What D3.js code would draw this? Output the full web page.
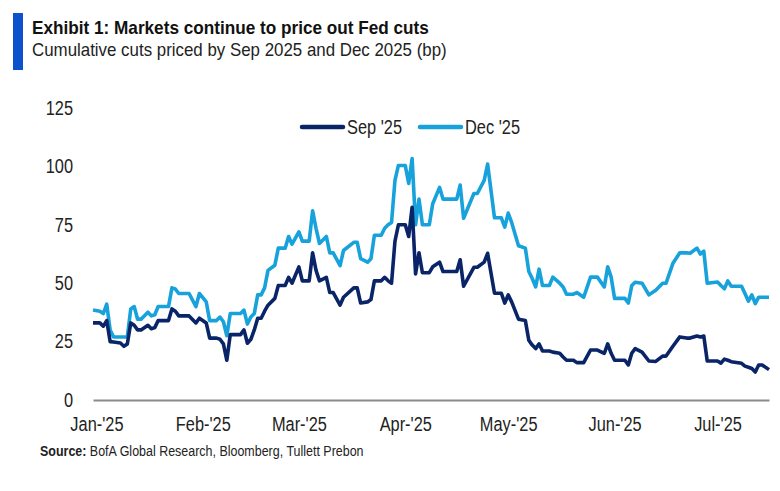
<!DOCTYPE html>
<html>
<head>
<meta charset="utf-8">
<script src="https://cdn.jsdelivr.net/npm/d3@7"></script>
<style>
  body { margin: 0; background: #fff; }
  svg { display: block; }
  text { font-family: "Liberation Sans Narrow", "Arial Narrow", "Liberation Sans", Arial, sans-serif; }
</style>
</head>
<body>
<svg id="chart" width="780" height="491"></svg>
<script>
// Observation dates (cumulative cuts priced, bp)
const dates = [
  '2024-12-31','2025-01-02','2025-01-03','2025-01-04','2025-01-05','2025-01-06','2025-01-08','2025-01-09','2025-01-10','2025-01-11',
  '2025-01-12','2025-01-13','2025-01-14','2025-01-16','2025-01-17','2025-01-18','2025-01-19','2025-01-22','2025-01-23','2025-01-24',
  '2025-01-25','2025-01-28','2025-01-30','2025-01-31','2025-02-02','2025-02-03','2025-02-05','2025-02-06','2025-02-07','2025-02-08',
  '2025-02-09','2025-02-12','2025-02-13','2025-02-14','2025-02-15','2025-02-16','2025-02-17','2025-02-18','2025-02-19','2025-02-20',
  '2025-02-22','2025-02-23','2025-02-25','2025-02-26','2025-02-27','2025-03-01','2025-03-02','2025-03-04','2025-03-05','2025-03-06',
  '2025-03-07','2025-03-09','2025-03-10','2025-03-11','2025-03-13','2025-03-14','2025-03-17','2025-03-18','2025-03-19','2025-03-21',
  '2025-03-22','2025-03-23','2025-03-25','2025-03-26','2025-03-27','2025-03-28','2025-03-29','2025-03-30','2025-04-01','2025-04-02',
  '2025-04-03','2025-04-04','2025-04-05','2025-04-06','2025-04-08','2025-04-09','2025-04-11','2025-04-12','2025-04-16','2025-04-17',
  '2025-04-18','2025-04-21','2025-04-22','2025-04-24','2025-04-25','2025-04-27','2025-04-29','2025-04-30','2025-05-01','2025-05-02',
  '2025-05-04','2025-05-06','2025-05-07','2025-05-08','2025-05-09','2025-05-10','2025-05-11','2025-05-13','2025-05-14','2025-05-16',
  '2025-05-17','2025-05-18','2025-05-20','2025-05-21','2025-05-23','2025-05-25','2025-05-27','2025-05-29','2025-05-30','2025-05-31',
  '2025-06-01','2025-06-04','2025-06-05','2025-06-06','2025-06-07','2025-06-09','2025-06-11','2025-06-13','2025-06-15','2025-06-16',
  '2025-06-18','2025-06-20','2025-06-22','2025-06-23','2025-06-25','2025-06-26','2025-06-27','2025-06-28','2025-07-01','2025-07-02',
  '2025-07-03','2025-07-04','2025-07-05','2025-07-08','2025-07-09','2025-07-10','2025-07-11','2025-07-12','2025-07-13','2025-07-14',
  '2025-07-16'
];

// Sep '25 meeting
const sepValues = [
  33, 33, 31.6, 34, 25, 24.8, 24.4, 23, 24, 33,
  32, 30, 30, 32, 30.5, 31, 34, 34, 39, 38,
  36, 36, 33, 35, 33, 26.5, 26.5, 26, 24, 17,
  28, 28, 30, 24.3, 26, 30, 35, 35, 38, 40.6,
  43.5, 49, 49, 52.5, 50, 57, 51, 51, 63, 55.5,
  51, 52.5, 46, 46, 40.6, 44, 48, 48, 41.5, 42,
  43, 51, 51, 52.5, 51, 50, 68, 75, 75, 70,
  82.5, 54, 63, 54.5, 54.5, 57, 59, 55, 55, 60,
  48.7, 56.8, 56.8, 59, 62.8, 45.7, 45.7, 41.5, 45, 42,
  34.6, 34, 25.6, 23.5, 22, 24, 21, 21, 20.5, 20,
  18.4, 17, 17, 16, 16, 21.4, 21.4, 20, 24, 20,
  17, 17, 15, 20, 22, 20.5, 16.7, 16.5, 18.8, 18.8,
  23, 27, 26.5, 26.5, 27.4, 27, 27.4, 16.7, 16.7, 15.8,
  17.5, 17, 16.4, 15.7, 14.5, 14, 13.5, 12, 15, 15,
  13
];

// Dec '25 meeting
const decValues = [
  38.5, 38, 37, 41, 30, 27, 27, 27, 27, 39,
  40, 34.6, 34.6, 37.6, 36, 36.5, 40, 40, 48, 47.5,
  45.6, 45.6, 40, 45.6, 42, 34, 34, 35.5, 33.5, 27.5,
  37, 37, 38.5, 32.5, 35.5, 37, 45, 45, 48, 55.5,
  57.7, 65, 65, 70, 66.7, 72, 68, 68, 81, 73.5,
  67, 70, 63, 63, 57.5, 64, 67.5, 67.5, 60.5, 59,
  60.5, 70.5, 70.5, 73.5, 75, 76, 94, 100.4, 100.4, 92.7,
  103.4, 75, 86, 75, 75, 84, 91, 86, 86, 92,
  77.8, 88.4, 88.4, 94, 101, 78, 78, 74, 80, 76,
  66, 65, 55, 52, 48.4, 56, 49, 49, 52.6, 50,
  48.4, 45.3, 45.3, 46, 44, 52.6, 52.6, 48.4, 57, 52.6,
  43.5, 43.5, 41.5, 49, 50.4, 50, 45, 47, 50, 50,
  58.5, 63, 63, 62.8, 65, 62.5, 63.7, 50, 50.5, 49,
  47.6, 51, 48.7, 48.7, 45.6, 42.3, 45, 41.3, 44, 44,
  44
];

const monthTicks = ['2025-01-01','2025-02-01','2025-03-01','2025-04-01','2025-05-01','2025-06-01','2025-07-01'];
const yTicks = [0, 25, 50, 75, 100, 125];
const seriesNames = ["Sep '25", "Dec '25"];

const parse = d3.timeParse('%Y-%m-%d');
const colors = { sep: '#0a2468', dec: '#17a2dc' };
const narrow = 0.84; // no narrow font installed, squeeze glyphs horizontally

const svg = d3.select('#chart');
svg.append('rect').attr('width', 780).attr('height', 491).attr('fill', '#fff');

// Header
svg.append('rect').attr('x', 13).attr('y', 13).attr('width', 10).attr('height', 57).attr('fill', '#0b52cc');
svg.append('text').attr('transform', 'translate(32,34) scale(0.955,1)')
  .style('font-size', '18px').style('font-weight', 'bold').attr('fill', '#111')
  .text('Exhibit 1: Markets continue to price out Fed cuts');
svg.append('text').attr('transform', 'translate(32,56) scale(0.965,1)')
  .style('font-size', '17.5px').attr('fill', '#222')
  .text('Cumulative cuts priced by Sep 2025 and Dec 2025 (bp)');

// Scales
const x = d3.scaleTime()
  .domain([parse('2024-12-31'), parse('2025-07-16')])
  .range([93, 769]);
const y = d3.scaleLinear().domain([0, 125]).range([400, 108]);

// X axis
const xAxis = svg.append('g')
  .attr('transform', 'translate(0,400)')
  .call(d3.axisBottom(x)
    .tickValues(monthTicks.map(parse))
    .tickFormat(d3.timeFormat("%b-'%y"))
    .tickSize(0)
    .tickPadding(17));
xAxis.select('.domain').attr('stroke', '#8a8a8a').attr('stroke-width', 2.2);
xAxis.selectAll('text').style('font-size', '19.5px').attr('fill', '#222')
  .attr('transform', `scale(${narrow},1)`);

// Y axis
const yAxis = svg.append('g')
  .attr('transform', 'translate(93,0)')
  .call(d3.axisLeft(y).tickValues(yTicks).tickSize(0).tickPadding(20));
yAxis.select('.domain').remove();
yAxis.selectAll('text').style('font-size', '19.5px').attr('fill', '#222')
  .attr('x', -20 / narrow)
  .attr('transform', `scale(${narrow},1)`);

// Lines
const line = vals => d3.line()
  .x((d, i) => x(parse(dates[i])))
  .y(d => y(d))(vals);

svg.append('path').attr('d', line(decValues))
  .attr('fill', 'none').attr('stroke', colors.dec).attr('stroke-width', 3.6).attr('stroke-linejoin', 'round');
svg.append('path').attr('d', line(sepValues))
  .attr('fill', 'none').attr('stroke', colors.sep).attr('stroke-width', 3.6).attr('stroke-linejoin', 'round');

// Legend
const legend = svg.append('g').attr('transform', 'translate(302,127)');
[[0, colors.sep], [118, colors.dec]].forEach(([dx, c], i) => {
  legend.append('line').attr('x1', dx).attr('x2', dx + 41).attr('y1', 0).attr('y2', 0)
    .attr('stroke', c).attr('stroke-width', 4.5).attr('stroke-linecap', 'round');
  legend.append('text').attr('transform', `translate(${dx + 45},7) scale(${narrow},1)`)
    .style('font-size', '19.5px').attr('fill', '#222').text(seriesNames[i]);
});

// Source
const src = svg.append('text').attr('transform', 'translate(40,456) scale(0.86,1)')
  .style('font-size', '14.5px').attr('fill', '#222');
src.append('tspan').style('font-weight', 'bold').text('Source:');
src.append('tspan').text(' BofA Global Research, Bloomberg, Tullett Prebon');
</script>
</body>
</html>
